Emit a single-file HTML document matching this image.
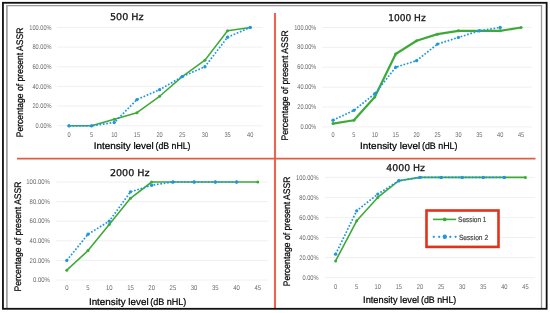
<!DOCTYPE html>
<html><head><meta charset="utf-8"><title>ASSR charts</title><style>
html,body{margin:0;padding:0;background:#fff;}
body{width:550px;height:313px;overflow:hidden;}
svg{display:block;}
text{font-family:"Liberation Sans",Arial,sans-serif;text-rendering:geometricPrecision;}
.tk{font-size:5.8px;fill:#6a6a6a;}
.ti{font-family:"DejaVu Sans",sans-serif;font-size:9.4px;fill:#151515;stroke:#151515;stroke-width:0.3px;}
.ax{font-size:9.5px;fill:#000;stroke:#000;stroke-width:0.22px;}
.lg{font-size:7.4px;fill:#484848;stroke:#484848;stroke-width:0.2px;}
</style></head>
<body>
<svg width="550" height="313" viewBox="0 0 550 313">
<rect width="550" height="313" fill="#fff"/>
<line x1="57" y1="125.8" x2="262.7" y2="125.8" stroke="#EEEEEE" stroke-width="0.9"/>
<line x1="57" y1="106.12" x2="262.7" y2="106.12" stroke="#EEEEEE" stroke-width="0.9"/>
<line x1="57" y1="86.44" x2="262.7" y2="86.44" stroke="#EEEEEE" stroke-width="0.9"/>
<line x1="57" y1="66.76" x2="262.7" y2="66.76" stroke="#EEEEEE" stroke-width="0.9"/>
<line x1="57" y1="47.08" x2="262.7" y2="47.08" stroke="#EEEEEE" stroke-width="0.9"/>
<line x1="57" y1="27.4" x2="262.7" y2="27.4" stroke="#EEEEEE" stroke-width="0.9"/>
<text x="51.6" y="127.9" class="tk" text-anchor="end" textLength="16.02" style="font-size:6.9px" lengthAdjust="spacingAndGlyphs">0.00%</text>
<text x="51.6" y="108.22" class="tk" text-anchor="end" textLength="19.16" style="font-size:6.9px" lengthAdjust="spacingAndGlyphs">20.00%</text>
<text x="51.6" y="88.54" class="tk" text-anchor="end" textLength="19.16" style="font-size:6.9px" lengthAdjust="spacingAndGlyphs">40.00%</text>
<text x="51.6" y="68.86" class="tk" text-anchor="end" textLength="19.16" style="font-size:6.9px" lengthAdjust="spacingAndGlyphs">60.00%</text>
<text x="51.6" y="49.18" class="tk" text-anchor="end" textLength="19.16" style="font-size:6.9px" lengthAdjust="spacingAndGlyphs">80.00%</text>
<text x="51.6" y="29.5" class="tk" text-anchor="end" textLength="22.3" style="font-size:6.9px" lengthAdjust="spacingAndGlyphs">100.00%</text>
<text x="69" y="136.5" class="tk" text-anchor="middle" textLength="3.14" style="font-size:6.9px" lengthAdjust="spacingAndGlyphs">0</text>
<text x="91.65" y="136.5" class="tk" text-anchor="middle" textLength="3.14" style="font-size:6.9px" lengthAdjust="spacingAndGlyphs">5</text>
<text x="114.3" y="136.5" class="tk" text-anchor="middle" textLength="6.28" style="font-size:6.9px" lengthAdjust="spacingAndGlyphs">10</text>
<text x="136.95" y="136.5" class="tk" text-anchor="middle" textLength="6.28" style="font-size:6.9px" lengthAdjust="spacingAndGlyphs">15</text>
<text x="159.6" y="136.5" class="tk" text-anchor="middle" textLength="6.28" style="font-size:6.9px" lengthAdjust="spacingAndGlyphs">20</text>
<text x="182.25" y="136.5" class="tk" text-anchor="middle" textLength="6.28" style="font-size:6.9px" lengthAdjust="spacingAndGlyphs">25</text>
<text x="204.9" y="136.5" class="tk" text-anchor="middle" textLength="6.28" style="font-size:6.9px" lengthAdjust="spacingAndGlyphs">30</text>
<text x="227.55" y="136.5" class="tk" text-anchor="middle" textLength="6.28" style="font-size:6.9px" lengthAdjust="spacingAndGlyphs">35</text>
<text x="250.2" y="136.5" class="tk" text-anchor="middle" textLength="6.28" style="font-size:6.9px" lengthAdjust="spacingAndGlyphs">40</text>
<text x="110" y="20.2" class="ti" textLength="33.6" lengthAdjust="spacingAndGlyphs">500 Hz</text>
<text transform="translate(23.1,137.3) rotate(-90)" class="ax" textLength="109.8" lengthAdjust="spacingAndGlyphs">Percentage of present ASSR</text>
<text y="148.6" class="ax"><tspan x="93.7" textLength="60.1" lengthAdjust="spacingAndGlyphs">Intensity level</tspan><tspan x="155.55" textLength="34.95" lengthAdjust="spacingAndGlyphs">(dB nHL)</tspan></text>
<polyline points="69,125.8 91.65,125.8 114.3,119.24 136.95,112.68 159.6,96.28 182.25,76.6 204.9,60.2 227.55,30.68 250.2,27.4" fill="none" stroke="#3DAA38" stroke-width="1.5" stroke-linejoin="round"/>
<circle cx="69" cy="125.8" r="1.5" fill="#3DAA38"/>
<circle cx="91.65" cy="125.8" r="1.5" fill="#3DAA38"/>
<circle cx="114.3" cy="119.24" r="1.5" fill="#3DAA38"/>
<circle cx="136.95" cy="112.68" r="1.5" fill="#3DAA38"/>
<circle cx="159.6" cy="96.28" r="1.5" fill="#3DAA38"/>
<circle cx="182.25" cy="76.6" r="1.5" fill="#3DAA38"/>
<circle cx="204.9" cy="60.2" r="1.5" fill="#3DAA38"/>
<circle cx="227.55" cy="30.68" r="1.5" fill="#3DAA38"/>
<circle cx="250.2" cy="27.4" r="1.5" fill="#3DAA38"/>
<polyline points="69,125.8 91.65,125.8 114.3,122.52 136.95,99.56 159.6,89.72 182.25,76.6 204.9,66.76 227.55,37.24 250.2,27.4" fill="none" stroke="#1F96E0" stroke-width="1.7" stroke-dasharray="1.7 1.7" stroke-linejoin="round"/>
<circle cx="69" cy="125.8" r="1.65" fill="#1F96E0"/>
<circle cx="91.65" cy="125.8" r="1.65" fill="#1F96E0"/>
<circle cx="114.3" cy="122.52" r="1.65" fill="#1F96E0"/>
<circle cx="136.95" cy="99.56" r="1.65" fill="#1F96E0"/>
<circle cx="159.6" cy="89.72" r="1.65" fill="#1F96E0"/>
<circle cx="182.25" cy="76.6" r="1.65" fill="#1F96E0"/>
<circle cx="204.9" cy="66.76" r="1.65" fill="#1F96E0"/>
<circle cx="227.55" cy="37.24" r="1.65" fill="#1F96E0"/>
<circle cx="250.2" cy="27.4" r="1.65" fill="#1F96E0"/>
<line x1="322" y1="126.9" x2="532" y2="126.9" stroke="#EEEEEE" stroke-width="0.9"/>
<line x1="322" y1="107.02" x2="532" y2="107.02" stroke="#EEEEEE" stroke-width="0.9"/>
<line x1="322" y1="87.14" x2="532" y2="87.14" stroke="#EEEEEE" stroke-width="0.9"/>
<line x1="322" y1="67.26" x2="532" y2="67.26" stroke="#EEEEEE" stroke-width="0.9"/>
<line x1="322" y1="47.38" x2="532" y2="47.38" stroke="#EEEEEE" stroke-width="0.9"/>
<line x1="322" y1="27.5" x2="532" y2="27.5" stroke="#EEEEEE" stroke-width="0.9"/>
<text x="316.3" y="129" class="tk" text-anchor="end" textLength="15.88" style="font-size:6.9px" lengthAdjust="spacingAndGlyphs">0.00%</text>
<text x="316.3" y="109.12" class="tk" text-anchor="end" textLength="18.99" style="font-size:6.9px" lengthAdjust="spacingAndGlyphs">20.00%</text>
<text x="316.3" y="89.24" class="tk" text-anchor="end" textLength="18.99" style="font-size:6.9px" lengthAdjust="spacingAndGlyphs">40.00%</text>
<text x="316.3" y="69.36" class="tk" text-anchor="end" textLength="18.99" style="font-size:6.9px" lengthAdjust="spacingAndGlyphs">60.00%</text>
<text x="316.3" y="49.48" class="tk" text-anchor="end" textLength="18.99" style="font-size:6.9px" lengthAdjust="spacingAndGlyphs">80.00%</text>
<text x="316.3" y="29.6" class="tk" text-anchor="end" textLength="22.1" style="font-size:6.9px" lengthAdjust="spacingAndGlyphs">100.00%</text>
<text x="333" y="137.4" class="tk" text-anchor="middle" textLength="3.11" style="font-size:6.9px" lengthAdjust="spacingAndGlyphs">0</text>
<text x="353.9" y="137.4" class="tk" text-anchor="middle" textLength="3.11" style="font-size:6.9px" lengthAdjust="spacingAndGlyphs">5</text>
<text x="374.8" y="137.4" class="tk" text-anchor="middle" textLength="6.23" style="font-size:6.9px" lengthAdjust="spacingAndGlyphs">10</text>
<text x="395.7" y="137.4" class="tk" text-anchor="middle" textLength="6.23" style="font-size:6.9px" lengthAdjust="spacingAndGlyphs">15</text>
<text x="416.6" y="137.4" class="tk" text-anchor="middle" textLength="6.23" style="font-size:6.9px" lengthAdjust="spacingAndGlyphs">20</text>
<text x="437.5" y="137.4" class="tk" text-anchor="middle" textLength="6.23" style="font-size:6.9px" lengthAdjust="spacingAndGlyphs">25</text>
<text x="458.4" y="137.4" class="tk" text-anchor="middle" textLength="6.23" style="font-size:6.9px" lengthAdjust="spacingAndGlyphs">30</text>
<text x="479.3" y="137.4" class="tk" text-anchor="middle" textLength="6.23" style="font-size:6.9px" lengthAdjust="spacingAndGlyphs">35</text>
<text x="500.2" y="137.4" class="tk" text-anchor="middle" textLength="6.23" style="font-size:6.9px" lengthAdjust="spacingAndGlyphs">40</text>
<text x="521.1" y="137.4" class="tk" text-anchor="middle" textLength="6.23" style="font-size:6.9px" lengthAdjust="spacingAndGlyphs">45</text>
<text x="388.2" y="20.8" class="ti" textLength="37.5" lengthAdjust="spacingAndGlyphs">1000 Hz</text>
<text transform="translate(287.8,140.6) rotate(-90)" class="ax" textLength="110.4" lengthAdjust="spacingAndGlyphs">Percentage of present ASSR</text>
<text y="148.6" class="ax"><tspan x="360.1" textLength="60.1" lengthAdjust="spacingAndGlyphs">Intensity level</tspan><tspan x="421.95" textLength="35.55" lengthAdjust="spacingAndGlyphs">(dB nHL)</tspan></text>
<polyline points="333,123.59 353.9,120.27 374.8,97.08 395.7,54.01 416.6,40.75 437.5,34.13 458.4,30.81 479.3,30.81 500.2,30.81 521.1,27.5" fill="none" stroke="#3DAA38" stroke-width="2.2" stroke-linejoin="round"/>
<circle cx="333" cy="123.59" r="1.5" fill="#3DAA38"/>
<circle cx="353.9" cy="120.27" r="1.5" fill="#3DAA38"/>
<circle cx="374.8" cy="97.08" r="1.5" fill="#3DAA38"/>
<circle cx="395.7" cy="54.01" r="1.5" fill="#3DAA38"/>
<circle cx="416.6" cy="40.75" r="1.5" fill="#3DAA38"/>
<circle cx="437.5" cy="34.13" r="1.5" fill="#3DAA38"/>
<circle cx="458.4" cy="30.81" r="1.5" fill="#3DAA38"/>
<circle cx="479.3" cy="30.81" r="1.5" fill="#3DAA38"/>
<circle cx="500.2" cy="30.81" r="1.5" fill="#3DAA38"/>
<circle cx="521.1" cy="27.5" r="1.5" fill="#3DAA38"/>
<polyline points="333,120.27 353.9,110.33 374.8,93.77 395.7,67.26 416.6,60.63 437.5,44.07 458.4,37.44 479.3,30.81 500.2,27.5" fill="none" stroke="#1F96E0" stroke-width="1.7" stroke-dasharray="1.7 1.7" stroke-linejoin="round"/>
<circle cx="333" cy="120.27" r="1.65" fill="#1F96E0"/>
<circle cx="353.9" cy="110.33" r="1.65" fill="#1F96E0"/>
<circle cx="374.8" cy="93.77" r="1.65" fill="#1F96E0"/>
<circle cx="395.7" cy="67.26" r="1.65" fill="#1F96E0"/>
<circle cx="416.6" cy="60.63" r="1.65" fill="#1F96E0"/>
<circle cx="437.5" cy="44.07" r="1.65" fill="#1F96E0"/>
<circle cx="458.4" cy="37.44" r="1.65" fill="#1F96E0"/>
<circle cx="479.3" cy="30.81" r="1.65" fill="#1F96E0"/>
<circle cx="500.2" cy="27.5" r="1.65" fill="#1F96E0"/>
<line x1="56.2" y1="280" x2="268.3" y2="280" stroke="#EEEEEE" stroke-width="0.9"/>
<line x1="56.2" y1="260.4" x2="268.3" y2="260.4" stroke="#EEEEEE" stroke-width="0.9"/>
<line x1="56.2" y1="240.8" x2="268.3" y2="240.8" stroke="#EEEEEE" stroke-width="0.9"/>
<line x1="56.2" y1="221.2" x2="268.3" y2="221.2" stroke="#EEEEEE" stroke-width="0.9"/>
<line x1="56.2" y1="201.6" x2="268.3" y2="201.6" stroke="#EEEEEE" stroke-width="0.9"/>
<line x1="56.2" y1="182" x2="268.3" y2="182" stroke="#EEEEEE" stroke-width="0.9"/>
<text x="49.8" y="282.1" class="tk" text-anchor="end" textLength="16.87" style="font-size:6.9px" lengthAdjust="spacingAndGlyphs">0.00%</text>
<text x="49.8" y="262.5" class="tk" text-anchor="end" textLength="20.18" style="font-size:6.9px" lengthAdjust="spacingAndGlyphs">20.00%</text>
<text x="49.8" y="242.9" class="tk" text-anchor="end" textLength="20.18" style="font-size:6.9px" lengthAdjust="spacingAndGlyphs">40.00%</text>
<text x="49.8" y="223.3" class="tk" text-anchor="end" textLength="20.18" style="font-size:6.9px" lengthAdjust="spacingAndGlyphs">60.00%</text>
<text x="49.8" y="203.7" class="tk" text-anchor="end" textLength="20.18" style="font-size:6.9px" lengthAdjust="spacingAndGlyphs">80.00%</text>
<text x="49.8" y="184.1" class="tk" text-anchor="end" textLength="23.48" style="font-size:6.9px" lengthAdjust="spacingAndGlyphs">100.00%</text>
<text x="66.8" y="289.9" class="tk" text-anchor="middle" textLength="3.31" style="font-size:6.9px" lengthAdjust="spacingAndGlyphs">0</text>
<text x="88.02" y="289.9" class="tk" text-anchor="middle" textLength="3.31" style="font-size:6.9px" lengthAdjust="spacingAndGlyphs">5</text>
<text x="109.24" y="289.9" class="tk" text-anchor="middle" textLength="6.62" style="font-size:6.9px" lengthAdjust="spacingAndGlyphs">10</text>
<text x="130.46" y="289.9" class="tk" text-anchor="middle" textLength="6.62" style="font-size:6.9px" lengthAdjust="spacingAndGlyphs">15</text>
<text x="151.68" y="289.9" class="tk" text-anchor="middle" textLength="6.62" style="font-size:6.9px" lengthAdjust="spacingAndGlyphs">20</text>
<text x="172.9" y="289.9" class="tk" text-anchor="middle" textLength="6.62" style="font-size:6.9px" lengthAdjust="spacingAndGlyphs">25</text>
<text x="194.12" y="289.9" class="tk" text-anchor="middle" textLength="6.62" style="font-size:6.9px" lengthAdjust="spacingAndGlyphs">30</text>
<text x="215.34" y="289.9" class="tk" text-anchor="middle" textLength="6.62" style="font-size:6.9px" lengthAdjust="spacingAndGlyphs">35</text>
<text x="236.56" y="289.9" class="tk" text-anchor="middle" textLength="6.62" style="font-size:6.9px" lengthAdjust="spacingAndGlyphs">40</text>
<text x="257.78" y="289.9" class="tk" text-anchor="middle" textLength="6.62" style="font-size:6.9px" lengthAdjust="spacingAndGlyphs">45</text>
<text x="109.9" y="175.8" class="ti" textLength="39.7" lengthAdjust="spacingAndGlyphs">2000 Hz</text>
<text transform="translate(21.1,291.6) rotate(-90)" class="ax" textLength="110.2" lengthAdjust="spacingAndGlyphs">Percentage of present ASSR</text>
<text y="305.1" class="ax"><tspan x="88.9" textLength="59.7" lengthAdjust="spacingAndGlyphs">Intensity level</tspan><tspan x="150.15" textLength="36.15" lengthAdjust="spacingAndGlyphs">(dB nHL)</tspan></text>
<polyline points="66.8,270.2 88.02,250.6 109.24,224.46 130.46,198.34 151.68,182 172.9,182 194.12,182 215.34,182 236.56,182 257.78,182" fill="none" stroke="#3DAA38" stroke-width="1.6" stroke-linejoin="round"/>
<circle cx="66.8" cy="270.2" r="1.5" fill="#3DAA38"/>
<circle cx="88.02" cy="250.6" r="1.5" fill="#3DAA38"/>
<circle cx="109.24" cy="224.46" r="1.5" fill="#3DAA38"/>
<circle cx="130.46" cy="198.34" r="1.5" fill="#3DAA38"/>
<circle cx="151.68" cy="182" r="1.5" fill="#3DAA38"/>
<circle cx="172.9" cy="182" r="1.5" fill="#3DAA38"/>
<circle cx="194.12" cy="182" r="1.5" fill="#3DAA38"/>
<circle cx="215.34" cy="182" r="1.5" fill="#3DAA38"/>
<circle cx="236.56" cy="182" r="1.5" fill="#3DAA38"/>
<circle cx="257.78" cy="182" r="1.5" fill="#3DAA38"/>
<polyline points="66.8,260.4 88.02,234.26 109.24,221.2 130.46,191.8 151.68,185.26 172.9,182 194.12,182 215.34,182 236.56,182" fill="none" stroke="#1F96E0" stroke-width="1.7" stroke-dasharray="1.7 1.7" stroke-linejoin="round"/>
<circle cx="66.8" cy="260.4" r="1.65" fill="#1F96E0"/>
<circle cx="88.02" cy="234.26" r="1.65" fill="#1F96E0"/>
<circle cx="109.24" cy="221.2" r="1.65" fill="#1F96E0"/>
<circle cx="130.46" cy="191.8" r="1.65" fill="#1F96E0"/>
<circle cx="151.68" cy="185.26" r="1.65" fill="#1F96E0"/>
<circle cx="172.9" cy="182" r="1.65" fill="#1F96E0"/>
<circle cx="194.12" cy="182" r="1.65" fill="#1F96E0"/>
<circle cx="215.34" cy="182" r="1.65" fill="#1F96E0"/>
<circle cx="236.56" cy="182" r="1.65" fill="#1F96E0"/>
<line x1="324.7" y1="277.6" x2="535" y2="277.6" stroke="#EEEEEE" stroke-width="0.9"/>
<line x1="324.7" y1="257.56" x2="535" y2="257.56" stroke="#EEEEEE" stroke-width="0.9"/>
<line x1="324.7" y1="237.52" x2="535" y2="237.52" stroke="#EEEEEE" stroke-width="0.9"/>
<line x1="324.7" y1="217.48" x2="535" y2="217.48" stroke="#EEEEEE" stroke-width="0.9"/>
<line x1="324.7" y1="197.44" x2="535" y2="197.44" stroke="#EEEEEE" stroke-width="0.9"/>
<line x1="324.7" y1="177.4" x2="535" y2="177.4" stroke="#EEEEEE" stroke-width="0.9"/>
<text x="318.6" y="279.7" class="tk" text-anchor="end" textLength="16.16" style="font-size:6.9px" lengthAdjust="spacingAndGlyphs">0.00%</text>
<text x="318.6" y="259.66" class="tk" text-anchor="end" textLength="19.33" style="font-size:6.9px" lengthAdjust="spacingAndGlyphs">20.00%</text>
<text x="318.6" y="239.62" class="tk" text-anchor="end" textLength="19.33" style="font-size:6.9px" lengthAdjust="spacingAndGlyphs">40.00%</text>
<text x="318.6" y="219.58" class="tk" text-anchor="end" textLength="19.33" style="font-size:6.9px" lengthAdjust="spacingAndGlyphs">60.00%</text>
<text x="318.6" y="199.54" class="tk" text-anchor="end" textLength="19.33" style="font-size:6.9px" lengthAdjust="spacingAndGlyphs">80.00%</text>
<text x="318.6" y="179.5" class="tk" text-anchor="end" textLength="22.5" style="font-size:6.9px" lengthAdjust="spacingAndGlyphs">100.00%</text>
<text x="335.6" y="289.1" class="tk" text-anchor="middle" textLength="3.17" style="font-size:6.9px" lengthAdjust="spacingAndGlyphs">0</text>
<text x="356.69" y="289.1" class="tk" text-anchor="middle" textLength="3.17" style="font-size:6.9px" lengthAdjust="spacingAndGlyphs">5</text>
<text x="377.78" y="289.1" class="tk" text-anchor="middle" textLength="6.34" style="font-size:6.9px" lengthAdjust="spacingAndGlyphs">10</text>
<text x="398.87" y="289.1" class="tk" text-anchor="middle" textLength="6.34" style="font-size:6.9px" lengthAdjust="spacingAndGlyphs">15</text>
<text x="419.96" y="289.1" class="tk" text-anchor="middle" textLength="6.34" style="font-size:6.9px" lengthAdjust="spacingAndGlyphs">20</text>
<text x="441.05" y="289.1" class="tk" text-anchor="middle" textLength="6.34" style="font-size:6.9px" lengthAdjust="spacingAndGlyphs">25</text>
<text x="462.14" y="289.1" class="tk" text-anchor="middle" textLength="6.34" style="font-size:6.9px" lengthAdjust="spacingAndGlyphs">30</text>
<text x="483.23" y="289.1" class="tk" text-anchor="middle" textLength="6.34" style="font-size:6.9px" lengthAdjust="spacingAndGlyphs">35</text>
<text x="504.32" y="289.1" class="tk" text-anchor="middle" textLength="6.34" style="font-size:6.9px" lengthAdjust="spacingAndGlyphs">40</text>
<text x="525.41" y="289.1" class="tk" text-anchor="middle" textLength="6.34" style="font-size:6.9px" lengthAdjust="spacingAndGlyphs">45</text>
<text x="386.3" y="170.6" class="ti" textLength="38.7" lengthAdjust="spacingAndGlyphs">4000 Hz</text>
<text transform="translate(290.2,286.3) rotate(-90)" class="ax" textLength="109.7" lengthAdjust="spacingAndGlyphs">Percentage of present ASSR</text>
<text y="303.4" class="ax"><tspan x="363.1" textLength="56" lengthAdjust="spacingAndGlyphs">Intensity level</tspan><tspan x="420.95" textLength="35.35" lengthAdjust="spacingAndGlyphs">(dB nHL)</tspan></text>
<polyline points="335.6,260.9 356.69,220.82 377.78,197.44 398.87,180.74 419.96,177.4 441.05,177.4 462.14,177.4 483.23,177.4 504.32,177.4 525.41,177.4" fill="none" stroke="#3DAA38" stroke-width="1.6" stroke-linejoin="round"/>
<circle cx="335.6" cy="260.9" r="1.5" fill="#3DAA38"/>
<circle cx="356.69" cy="220.82" r="1.5" fill="#3DAA38"/>
<circle cx="377.78" cy="197.44" r="1.5" fill="#3DAA38"/>
<circle cx="398.87" cy="180.74" r="1.5" fill="#3DAA38"/>
<circle cx="419.96" cy="177.4" r="1.5" fill="#3DAA38"/>
<circle cx="441.05" cy="177.4" r="1.5" fill="#3DAA38"/>
<circle cx="462.14" cy="177.4" r="1.5" fill="#3DAA38"/>
<circle cx="483.23" cy="177.4" r="1.5" fill="#3DAA38"/>
<circle cx="504.32" cy="177.4" r="1.5" fill="#3DAA38"/>
<circle cx="525.41" cy="177.4" r="1.5" fill="#3DAA38"/>
<polyline points="335.6,254.22 356.69,210.8 377.78,194.1 398.87,180.74 419.96,177.4 441.05,177.4 462.14,177.4 483.23,177.4 504.32,177.4" fill="none" stroke="#1F96E0" stroke-width="1.7" stroke-dasharray="1.7 1.7" stroke-linejoin="round"/>
<circle cx="335.6" cy="254.22" r="1.65" fill="#1F96E0"/>
<circle cx="356.69" cy="210.8" r="1.65" fill="#1F96E0"/>
<circle cx="377.78" cy="194.1" r="1.65" fill="#1F96E0"/>
<circle cx="398.87" cy="180.74" r="1.65" fill="#1F96E0"/>
<circle cx="419.96" cy="177.4" r="1.65" fill="#1F96E0"/>
<circle cx="441.05" cy="177.4" r="1.65" fill="#1F96E0"/>
<circle cx="462.14" cy="177.4" r="1.65" fill="#1F96E0"/>
<circle cx="483.23" cy="177.4" r="1.65" fill="#1F96E0"/>
<circle cx="504.32" cy="177.4" r="1.65" fill="#1F96E0"/>
<line x1="275" y1="13" x2="275" y2="309" stroke="#E8654F" stroke-width="2.1"/>
<line x1="17" y1="158.7" x2="535.5" y2="158.7" stroke="#E25C44" stroke-width="1.75"/>
<rect x="426.5" y="210.5" width="72" height="36.4" fill="#fff" stroke="#E1321C" stroke-width="2.6"/>
<line x1="433" y1="219.4" x2="456.2" y2="219.4" stroke="#3DAA38" stroke-width="1.6"/>
<circle cx="444.7" cy="219.4" r="1.9" fill="#3DAA38"/>
<text x="458.1" y="222.0" class="lg" textLength="28.3" lengthAdjust="spacingAndGlyphs">Session 1</text>
<circle cx="433.8" cy="236.8" r="1.15" fill="#1F96E0"/>
<circle cx="439.2" cy="236.8" r="1.15" fill="#1F96E0"/>
<circle cx="450.3" cy="236.8" r="1.15" fill="#1F96E0"/>
<circle cx="455.6" cy="236.8" r="1.15" fill="#1F96E0"/>
<circle cx="444.8" cy="236.8" r="2.2" fill="#1F96E0"/>
<text x="458.9" y="239.5" class="lg" textLength="29.2" lengthAdjust="spacingAndGlyphs">Session 2</text>
<line x1="6" y1="5.6" x2="542.2" y2="5.6" stroke="#999" stroke-width="1.4"/>
<line x1="6.9" y1="5" x2="6.9" y2="308" stroke="#a0a0a0" stroke-width="1.7"/>
<line x1="541.5" y1="5" x2="541.5" y2="308" stroke="#9a9a9a" stroke-width="1.3"/>
<rect x="2.95" y="2.8" width="543.7" height="306" fill="none" stroke="#111" stroke-width="1.8"/>
</svg>
</body></html>
